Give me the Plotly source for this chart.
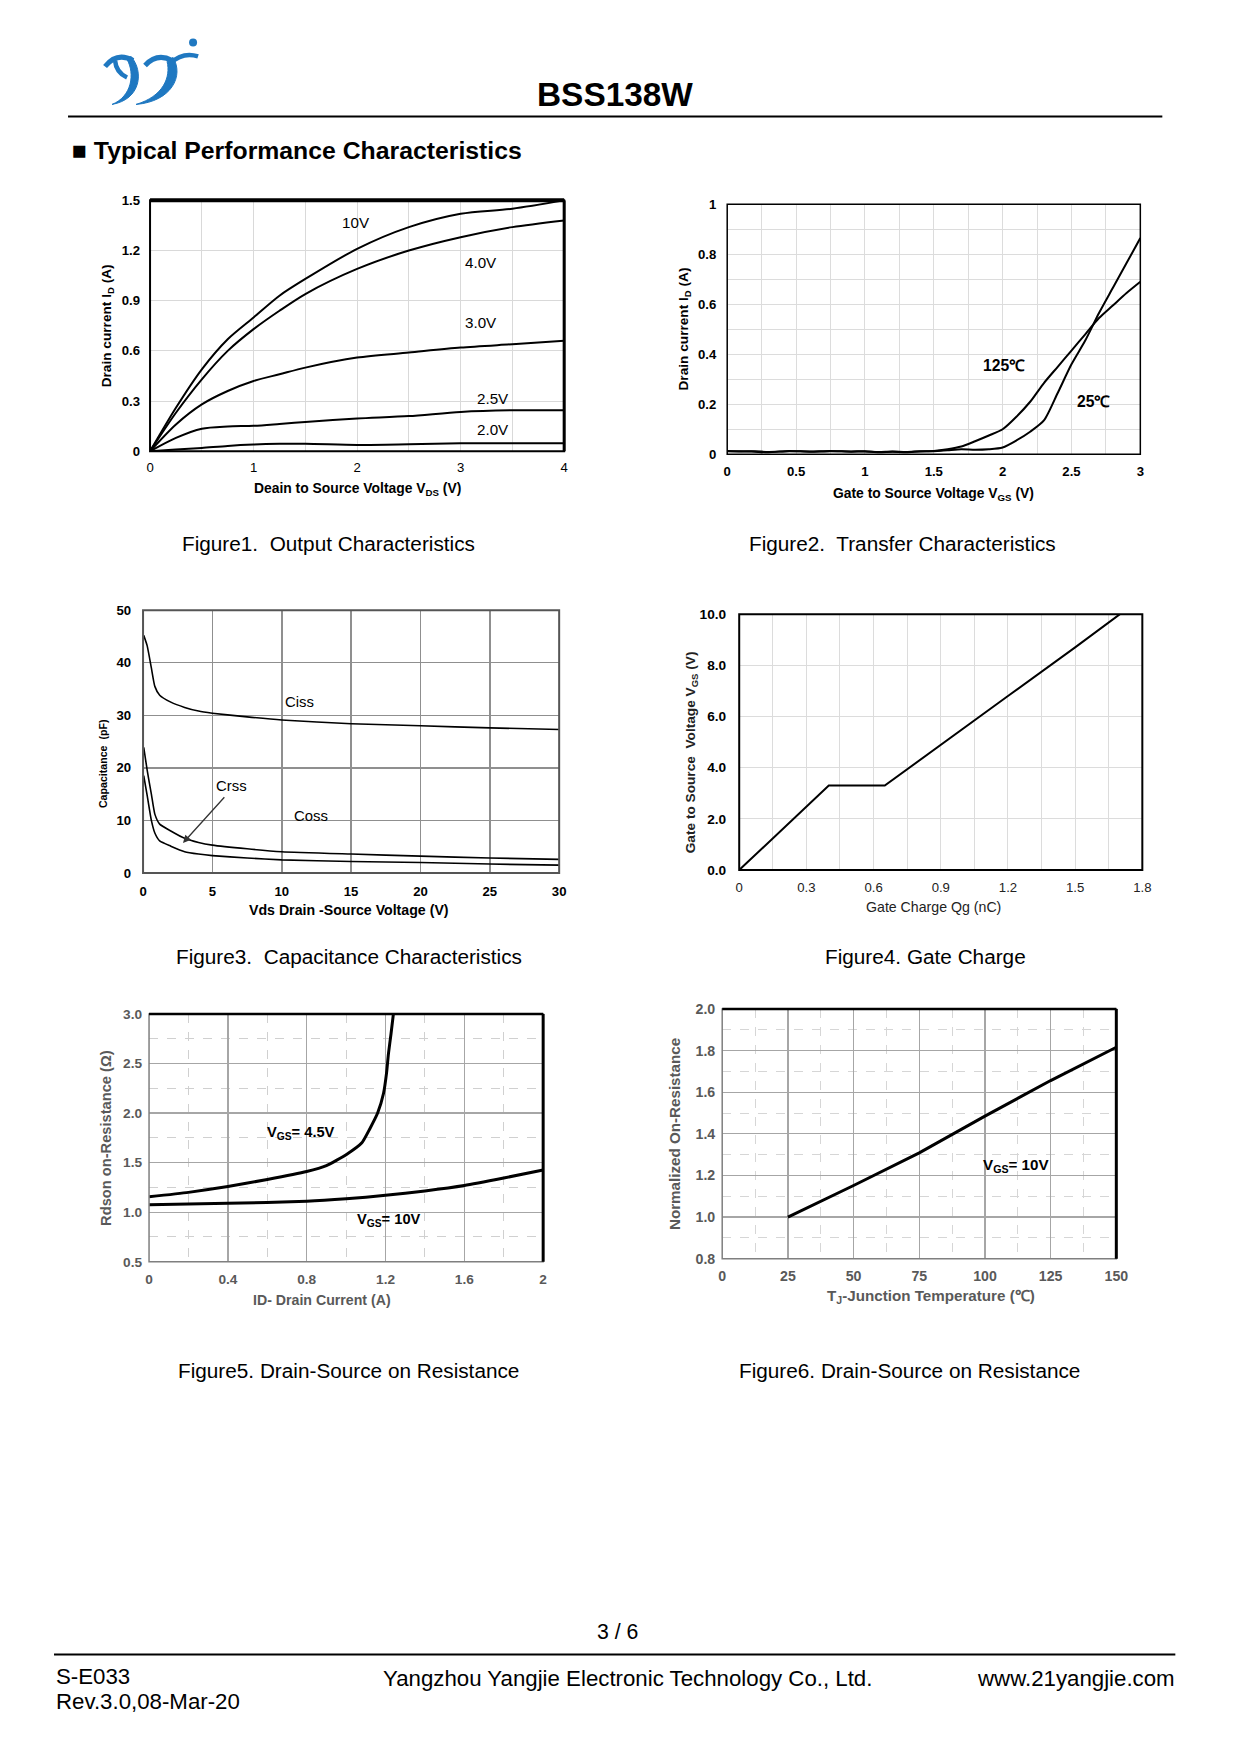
import plotly.graph_objects as go

W, H = 1240, 1754          # page size
M = 8                      # browser body margin
FW, FH = 1210, 1730        # figure size (fits inside the page with the margin)
# measured photograph correction (observed = S * page + O)
SX, OX = 0.9865, 3.1
SY, OY = 0.9913, 6.6
FS = 1.012                 # font scale compensation
FONT = "Liberation Sans, Arial, Helvetica, sans-serif"

# ---------------- data ----------------
# Figure 1 - Output characteristics
f1_vds = [0.0, 0.25, 0.5, 0.75, 1.0, 1.25, 1.5, 2.0, 2.5, 3.0, 3.5, 4.0]
f1_id_10v = [0.0, 0.26, 0.49, 0.67, 0.80, 0.93, 1.03, 1.21, 1.34, 1.42, 1.45, 1.50]
f1_id_4v = [0.0, 0.23, 0.43, 0.60, 0.73, 0.84, 0.94, 1.09, 1.20, 1.28, 1.34, 1.38]
f1_id_3v = [0.0, 0.16, 0.28, 0.36, 0.42, 0.46, 0.50, 0.56, 0.59, 0.62, 0.64, 0.66]
f1_id_2v5 = [0.0, 0.08, 0.135, 0.148, 0.152, 0.163, 0.175, 0.195, 0.21, 0.235, 0.245, 0.245]
f1_id_2v = [0.0, 0.01, 0.02, 0.032, 0.04, 0.044, 0.045, 0.038, 0.042, 0.048, 0.048, 0.048]
f1_labels = ["10V", "4.0V", "3.0V", "2.5V", "2.0V"]
f1_label_x = [1.99, 3.2, 3.2, 3.31, 3.31]
f1_label_y = [1.37, 1.13, 0.77, 0.315, 0.13]
f1_xticks = [0, 1, 2, 3, 4]
f1_yticks = [0, 0.3, 0.6, 0.9, 1.2, 1.5]
f1_yticktext = ["0", "0.3", "0.6", "0.9", "1.2", "1.5"]

# Figure 2 - Transfer characteristics
f2_vgs = [0.0, 0.1, 0.2, 0.3, 0.45, 0.6, 0.75, 0.9, 1.0, 1.1, 1.2, 1.3, 1.4, 1.5,
          1.6, 1.7, 1.8, 1.9, 2.0, 2.1, 2.2, 2.3, 2.4, 2.5, 2.6, 2.7, 2.8, 2.9, 3.0]
f2_id_25c = [0.012, 0.012, 0.010, 0.008, 0.013, 0.010, 0.012, 0.011, 0.012, 0.008,
             0.010, 0.008, 0.011, 0.012, 0.016, 0.020, 0.018, 0.020, 0.027, 0.055,
             0.090, 0.135, 0.245, 0.36, 0.455, 0.565, 0.665, 0.765, 0.865]
f2_id_125c = [0.013, 0.011, 0.012, 0.009, 0.012, 0.011, 0.013, 0.010, 0.011, 0.009,
              0.011, 0.009, 0.012, 0.013, 0.020, 0.031, 0.052, 0.075, 0.10, 0.15,
              0.21, 0.285, 0.35, 0.415, 0.48, 0.545, 0.595, 0.645, 0.69]
f2_labels = ["125℃", "25℃"]
f2_label_x = [2.01, 2.66]
f2_label_y = [0.356, 0.213]
f2_xticks = [0, 0.5, 1, 1.5, 2, 2.5, 3]
f2_yticks = [0, 0.2, 0.4, 0.6, 0.8, 1]

# Figure 3 - Capacitance characteristics
f3_vds = [0.05, 0.3, 0.6, 0.85, 1.2, 2, 3, 4, 5, 7.5, 10, 15, 20, 25, 30]
f3_ciss = [45.2, 43.2, 39.0, 35.5, 33.8, 32.5, 31.5, 30.8, 30.4, 29.7, 29.1, 28.4, 28.0, 27.6, 27.3]
f3_coss = [23.9, 19.5, 15.0, 11.2, 9.3, 8.0, 6.6, 5.8, 5.3, 4.6, 4.05, 3.6, 3.2, 2.85, 2.6]
f3_crss = [18.5, 14.7, 10.0, 7.6, 6.1, 5.1, 4.05, 3.6, 3.3, 2.85, 2.5, 2.2, 2.0, 1.7, 1.5]
f3_labels = ["Ciss", "Crss", "Coss"]
f3_label_x = [11.3, 6.4, 12.1]
f3_label_y = [32.5, 16.6, 10.8]
f3_xticks = [0, 5, 10, 15, 20, 25, 30]
f3_yticks = [0, 10, 20, 30, 40, 50]

# Figure 4 - Gate charge
f4_qg = [0.0, 0.2, 0.4, 0.65, 0.9, 1.2, 1.5, 1.7]
f4_vgs = [0.0, 1.65, 3.3, 3.3, 4.9, 6.8, 8.7, 10.0]
f4_xticks = [0, 0.3, 0.6, 0.9, 1.2, 1.5, 1.8]
f4_yticks = [0, 2, 4, 6, 8, 10]

# Figure 5 - Rdson vs drain current
f5_id_45 = [0.0, 0.2, 0.4, 0.6, 0.8, 0.9, 1.0, 1.08, 1.12, 1.16, 1.19, 1.205, 1.215, 1.228, 1.24]
f5_r_45 = [1.155, 1.2, 1.26, 1.33, 1.41, 1.47, 1.58, 1.70, 1.84, 2.0, 2.2, 2.4, 2.6, 2.8, 3.0]
f5_id_10 = [0.0, 0.4, 0.8, 1.0, 1.2, 1.4, 1.6, 1.8, 2.0]
f5_r_10 = [1.075, 1.09, 1.11, 1.135, 1.17, 1.215, 1.27, 1.345, 1.425]
f5_labels = ["V<sub>GS</sub>= 4.5V", "V<sub>GS</sub>= 10V"]
f5_label_x = [0.77, 1.22]
f5_label_y = [1.80, 0.92]
f5_xticks = [0, 0.4, 0.8, 1.2, 1.6, 2]
f5_yticks = [0.5, 1.0, 1.5, 2.0, 2.5, 3.0]

# Figure 6 - Normalized Rdson vs temperature
f6_tj = [25, 50, 75, 100, 125, 150]
f6_rn = [1.0, 1.152, 1.309, 1.485, 1.656, 1.816]
f6_labels = ["V<sub>GS</sub>= 10V"]
f6_label_x = [112]
f6_label_y = [1.25]
f6_xticks = [0, 25, 50, 75, 100, 125, 150]
f6_yticks = [0.8, 1.0, 1.2, 1.4, 1.6, 1.8, 2.0]

captions = ["Figure1.  Output Characteristics", "Figure2.  Transfer Characteristics",
            "Figure3.  Capacitance Characteristics", "Figure4. Gate Charge",
            "Figure5. Drain-Source on Resistance", "Figure6. Drain-Source on Resistance"]


# ---------------- helpers (target page pixel -> paper) ----------------
def px(x):
    return ((x - OX) / SX - M) / FW


def py(y):
    return 1 - ((y - OY) / SY - M) / FH


fig = go.Figure()


def sfx(i):
    return "" if i == 1 else str(i)


def add_line(i, x, y, width=2.0, shape="spline", color="black", smoothing=0.7):
    fig.add_trace(go.Scatter(
        x=x, y=y, xaxis="x" + sfx(i), yaxis="y" + sfx(i), mode="lines",
        line=dict(color=color, width=width, shape=shape, smoothing=smoothing),
        showlegend=False, hoverinfo="skip"))


def tfont(size=12.5, bold=False, color="black"):
    return dict(family=FONT, size=round(size * FS, 2), color=color,
                weight="bold" if bold else "normal")


def setup_axes(i, box, xrange, yrange, xticks, yticks, xtext=None, ytext=None,
               xfmt=None, yfmt=None, xminor=None, yminor=None, grid="#d9d9d9",
               gridwidth=1, minorgrid=None, minordash="solid",
               xfont=None, yfont=None, xstand=7, ystand=9):
    x0, x1, y0, y1 = box
    xa = dict(domain=[px(x0), px(x1)], range=xrange, anchor="y" + sfx(i),
              tickmode="array", tickvals=xticks, showgrid=True, gridcolor=grid,
              gridwidth=gridwidth, zeroline=False, showline=False, ticks="",
              tickfont=xfont, ticklabelstandoff=xstand, fixedrange=True)
    ya = dict(domain=[py(y1), py(y0)], range=yrange, anchor="x" + sfx(i),
              tickmode="array", tickvals=yticks, showgrid=True, gridcolor=grid,
              gridwidth=gridwidth, zeroline=False, showline=False, ticks="",
              tickfont=yfont, ticklabelstandoff=ystand, fixedrange=True)
    if xtext:
        xa["ticktext"] = xtext
    if ytext:
        ya["ticktext"] = ytext
    if xfmt:
        xa["tickformat"] = xfmt
    if yfmt:
        ya["tickformat"] = yfmt
    mg = minorgrid if minorgrid else grid
    if xminor:
        xa["minor"] = dict(tickmode="linear", tick0=xrange[0], dtick=xminor, showgrid=True,
                           gridcolor=mg, griddash=minordash, gridwidth=1, ticks="")
    if yminor:
        ya["minor"] = dict(tickmode="linear", tick0=yrange[0], dtick=yminor, showgrid=True,
                           gridcolor=mg, griddash=minordash, gridwidth=1, ticks="")
    fig.update_layout(**{"xaxis" + sfx(i): xa, "yaxis" + sfx(i): ya})


def border(i, color="black", width=2):
    fig.add_shape(type="rect", xref="x" + sfx(i) + " domain", yref="y" + sfx(i) + " domain",
                  x0=0, x1=1, y0=0, y1=1, line=dict(color=color, width=width), layer="above")


def edge(i, side, color="black", width=3):
    coords = {"top": (0, 1, 1, 1), "right": (1, 0, 1, 1), "left": (0, 0, 0, 1), "bottom": (0, 0, 1, 0)}
    a, b, c, d = coords[side]
    fig.add_shape(type="line", xref="x" + sfx(i) + " domain", yref="y" + sfx(i) + " domain",
                  x0=a, y0=b, x1=c, y1=d, line=dict(color=color, width=width), layer="above")


def label(i, text, x, y, size=13.5, bold=False, color="black"):
    fig.add_annotation(xref="x" + sfx(i), yref="y" + sfx(i), x=x, y=y, text=text,
                       showarrow=False, font=tfont(size, bold, color),
                       xanchor="center", yanchor="middle")


def page_text(text, x, y, size, bold=False, color="black", anchor="center", angle=0):
    fig.add_annotation(xref="paper", yref="paper", x=px(x), y=py(y), text=text,
                       showarrow=False, font=tfont(size, bold, color), xanchor=anchor,
                       yanchor="middle", textangle=angle, borderpad=0)


def page_line(x0, y0, x1, y1, width=2, color="black"):
    fig.add_shape(type="line", xref="paper", yref="paper", x0=px(x0), y0=py(y0),
                  x1=px(x1), y1=py(y1), line=dict(color=color, width=width))


def path_px(cmds):
    out = []
    for c in cmds:
        if isinstance(c, str):
            out.append(c)
        else:
            out.append(f"{px(c[0]):.5f},{py(c[1]):.5f}")
    return " ".join(out)


# ---------------- Figure 1 ----------------
setup_axes(1, (149, 563, 199, 450), [0, 4], [0, 1.5], f1_xticks, f1_yticks,
           ytext=f1_yticktext, xminor=0.5, grid="#d9d9d9",
           xfont=tfont(13), yfont=tfont(13, True), xstand=7, ystand=9)
for ys in [f1_id_10v, f1_id_4v, f1_id_3v, f1_id_2v5, f1_id_2v]:
    add_line(1, f1_vds, ys, width=2, smoothing=0.8)
for t, x, y in zip(f1_labels, f1_label_x, f1_label_y):
    label(1, t, x, y, size=15)
border(1, "black", 2)
edge(1, "top", "black", 4)
edge(1, "right", "black", 3)

# ---------------- Figure 2 ----------------
setup_axes(2, (726, 1139, 203, 453), [0, 3], [0, 1], f2_xticks, f2_yticks,
           xminor=0.25, yminor=0.1, grid="#dcdcdc",
           xfont=tfont(13, True), yfont=tfont(13, True), xstand=8, ystand=10)
add_line(2, f2_vgs, f2_id_125c, width=2)
add_line(2, f2_vgs, f2_id_25c, width=2)
for t, x, y in zip(f2_labels, f2_label_x, f2_label_y):
    label(2, t, x, y, size=15.5, bold=True)
border(2, "black", 1.5)

# ---------------- Figure 3 ----------------
setup_axes(3, (142, 558, 609, 872), [0, 30], [0, 50], f3_xticks, f3_yticks,
           grid="#8f8f8f", gridwidth=1.5,
           xfont=tfont(13, True), yfont=tfont(13, True), xstand=9, ystand=11)
add_line(3, f3_vds, f3_ciss, width=1.6, smoothing=0.5)
add_line(3, f3_vds, f3_coss, width=1.6, smoothing=0.5)
add_line(3, f3_vds, f3_crss, width=1.6, smoothing=0.5)
for t, x, y in zip(f3_labels, f3_label_x, f3_label_y):
    label(3, t, x, y, size=14.7)
fig.add_annotation(xref="x3", yref="y3", x=2.88, y=5.7, ax=5.96, ay=14.7,
                   axref="x3", ayref="y3", text="", showarrow=True,
                   arrowhead=2, arrowsize=1.2, arrowwidth=1.3, arrowcolor="#333333")
border(3, "#555555", 2)

# ---------------- Figure 4 ----------------
setup_axes(4, (738, 1141, 613, 869), [0, 1.8], [0, 10], f4_xticks, f4_yticks,
           yfmt=".1f", xminor=0.15, grid="#dcdcdc",
           xfont=tfont(13, False, "#222222"), yfont=tfont(13.5, True), xstand=8, ystand=12)
add_line(4, f4_qg, f4_vgs, width=2, shape="linear")
border(4, "black", 2)

# ---------------- Figure 5 ----------------
GRAYTXT = "#595959"
setup_axes(5, (148, 542, 1013, 1261), [0, 2], [0.5, 3.0], f5_xticks, f5_yticks,
           yfmt=".1f", xminor=0.2, yminor=0.25, grid="#a6a6a6", gridwidth=1.3,
           minorgrid="#d0d0d0", minordash="dash",
           xfont=tfont(13.5, True, GRAYTXT), yfont=tfont(13.5, True, GRAYTXT), xstand=8, ystand=6)
add_line(5, f5_id_45, f5_r_45, width=3, smoothing=0.5)
add_line(5, f5_id_10, f5_r_10, width=3, smoothing=0.5)
for t, x, y in zip(f5_labels, f5_label_x, f5_label_y):
    label(5, t, x, y, size=14.5, bold=True)
border(5, "#7f7f7f", 1.5)
edge(5, "top", "black", 2.5)
edge(5, "right", "black", 3)

# ---------------- Figure 6 ----------------
setup_axes(6, (721, 1115, 1008, 1258), [0, 150], [0.8, 2.0], f6_xticks, f6_yticks,
           yfmt=".1f", xminor=12.5, yminor=0.1, grid="#a6a6a6", gridwidth=1.3,
           minorgrid="#d6d6d6", minordash="dash",
           xfont=tfont(14, True, GRAYTXT), yfont=tfont(14, True, GRAYTXT), xstand=7, ystand=6)
add_line(6, f6_tj, f6_rn, width=3, shape="linear")
for t, x, y in zip(f6_labels, f6_label_x, f6_label_y):
    label(6, t, x, y, size=15, bold=True)
border(6, "#7f7f7f", 1.5)
edge(6, "top", "black", 2.5)
edge(6, "right", "black", 3)

# ---------------- axis titles ----------------
page_text("Drain current I<sub>D</sub> (A)", 106, 325, 13.5, True, angle=-90)
page_text("Deain to Source Voltage V<sub>DS</sub> (V)", 356, 488, 13.7, True)
page_text("Drain current I<sub>D</sub> (A)", 683, 328, 13.5, True, angle=-90)
page_text("Gate to Source Voltage V<sub>GS</sub> (V)", 932, 493, 13.7, True)
page_text("Capacitance  (pF)", 102, 763, 10.5, True, angle=-90)
page_text("Vds Drain -Source Voltage (V)", 348, 909, 14, True)
page_text("Gate to Source  Voltage V<sub>GS</sub> (V)", 690, 751, 13.5, True, color="#222222", angle=-90)
page_text("Gate Charge Qg (nC)", 932, 906, 14, False, color="#222222")
page_text("Rdson on-Resistance (Ω)", 105, 1137, 14.5, True, GRAYTXT, angle=-90)
page_text("ID- Drain Current (A)", 321, 1299, 14, True, GRAYTXT)
page_text("Normalized On-Resistance", 674, 1133, 15, True, GRAYTXT, angle=-90)
page_text("T<sub>J</sub>-Junction Temperature (℃)", 930, 1296, 15, True, GRAYTXT)

# ---------------- captions ----------------
cap_pos = [(327, 542), (901, 542), (348, 956), (924, 956), (347, 1370), (908, 1370)]
for t, (x, y) in zip(captions, cap_pos):
    page_text(t, x, y, 20.5)

# ---------------- header ----------------
page_text("BSS138W", 614, 93, 33, True)
page_line(67, 115, 1161, 115, width=2)
page_text("■ Typical Performance Characteristics", 70, 149, 24.5, True, anchor="left")

LOGO = "#1f78c1"
# stroked parts of the logo (wings and swoosh)
for cmds, wdt in [
    (["M", (104, 65), "Q", (116, 50), (132, 59)], 5),
    (["M", (114, 59), "Q", (115, 71), (126, 76)], 4.5),
    (["M", (144, 64), "Q", (156, 51), (171, 59)], 5),
    (["M", (169, 62), "Q", (182, 50), (197, 55)], 4.5),
]:
    fig.add_shape(type="path", xref="paper", yref="paper", path=path_px(cmds),
                  line=dict(color=LOGO, width=wdt))
# filled tapered main strokes
for cmds in [
    ["M", (130, 55), "C", (143, 70), (140, 98), (111, 103),
     "C", (131, 95), (134, 72), (126, 58), "Z"],
    ["M", (172, 56), "C", (183, 74), (171, 100), (135, 103),
     "C", (162, 95), (170, 76), (166, 60), "Z"],
]:
    fig.add_shape(type="path", xref="paper", yref="paper", path=path_px(cmds),
                  fillcolor=LOGO, line=dict(color=LOGO, width=1))
fig.add_shape(type="circle", xref="paper", yref="paper", x0=px(188), x1=px(196),
              y0=py(45), y1=py(37), fillcolor=LOGO, line=dict(color=LOGO, width=0))

# ---------------- footer ----------------
page_text("3 / 6", 616, 1631, 21)
page_line(53, 1654, 1174, 1654, width=2)
page_text("S-E033", 54, 1676, 22, anchor="left")
page_text("Rev.3.0,08-Mar-20", 54, 1701, 22, anchor="left")
page_text("Yangzhou Yangjie Electronic Technology Co., Ltd.", 626, 1678, 22)
page_text("www.21yangjie.com", 1175, 1678, 22, anchor="right")

fig.update_layout(width=FW, height=FH, margin=dict(l=0, r=0, t=0, b=0),
                  paper_bgcolor="white", plot_bgcolor="white", showlegend=False,
                  font=dict(family=FONT, color="black"))

fig.write_html("out.html", config={"displayModeBar": False, "staticPlot": True})
